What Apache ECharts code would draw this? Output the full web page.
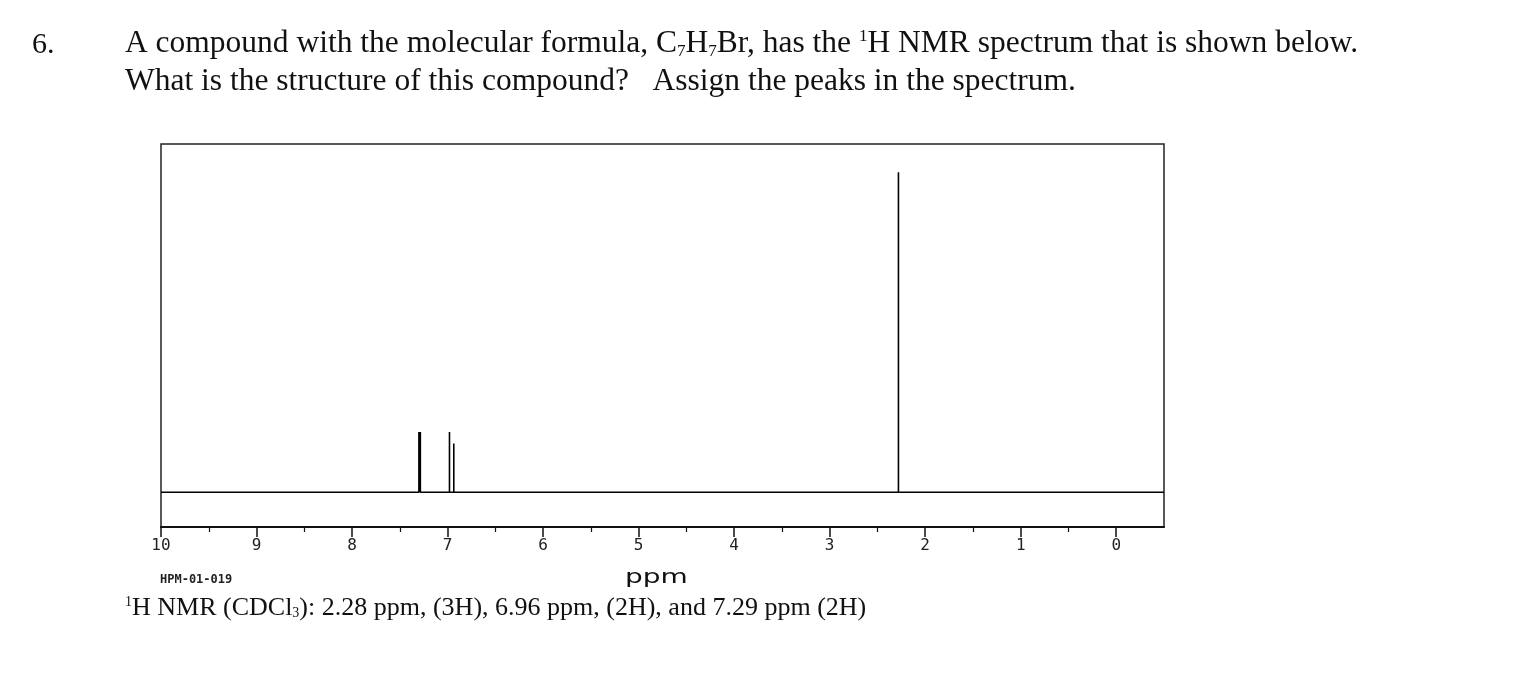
<!DOCTYPE html>
<html>
<head>
<meta charset="utf-8">
<script src="https://cdn.jsdelivr.net/npm/echarts@6/dist/echarts.min.js"></script>
<style>
html,body{margin:0;padding:0;background:#fff;}
#chart{width:1513px;height:687px;}
</style>
</head>
<body>
<div id="chart"></div>
<script>
// ---- data ----
const peakPpm    = [7.30, 7.285, 6.98, 6.935, 2.28];
const peakHeight = [17.3, 17.3, 17.3, 14.0, 91.9];
const ppmMax = 10;
const ppmMin = -0.5;
const majorTicks = [0, 1, 2, 3, 4, 5, 6, 7, 8, 9, 10];
const minorTicks = [0.5, 1.5, 2.5, 3.5, 4.5, 5.5, 6.5, 7.5, 8.5, 9.5];
const tickLabels = ['0', '1', '2', '3', '4', '5', '6', '7', '8', '9', '10'];

// build stick spectrum polyline from the peak list
const order = peakPpm.map((p, i) => i).sort((a, b) => peakPpm[b] - peakPpm[a]);
const spectrum = [[ppmMax, 0]];
order.forEach(i => {
  spectrum.push([peakPpm[i], 0]);
  spectrum.push([peakPpm[i], peakHeight[i]]);
  spectrum.push([peakPpm[i], 0]);
});
spectrum.push([ppmMin, 0]);

const chart = echarts.init(document.getElementById('chart'), null, {renderer: 'canvas'});
const serif = '"Liberation Serif", "Times New Roman", serif';
const mono = '"DejaVu Sans Mono", monospace';

const option = {
  backgroundColor: '#fff',
  animation: false,
  grid: {
    left: 161, right: 349, top: 144, bottom: 160,
    show: true, borderColor: '#222', borderWidth: 1.5, backgroundColor: 'transparent'
  },
  xAxis: [{
    type: 'value', inverse: true, min: ppmMin, max: ppmMax,
    position: 'bottom',
    axisLine: {show: true, onZero: false, lineStyle: {color: '#111', width: 2}},
    axisTick: {show: true, length: 10, customValues: majorTicks, lineStyle: {color: '#111', width: 1.5}},
    axisLabel: {
      show: true, customValues: majorTicks, margin: 11,
      formatter: v => tickLabels[majorTicks.indexOf(Math.round(v))] ?? '',
      fontFamily: mono, fontSize: 16, color: '#222'
    },
    splitLine: {show: false}
  }, {
    type: 'value', inverse: true, min: ppmMin, max: ppmMax,
    position: 'bottom',
    axisLine: {show: false, onZero: false},
    axisTick: {show: true, length: 5, customValues: minorTicks, lineStyle: {color: '#111', width: 1.2}},
    axisLabel: {show: false},
    splitLine: {show: false}
  }],
  yAxis: {
    type: 'value', min: -10, max: 100, show: false, splitLine: {show: false}
  },
  series: [{
    type: 'line',
    xAxisIndex: 0,
    data: spectrum,
    showSymbol: false,
    symbol: 'none',
    lineStyle: {color: '#000', width: 1.6},
    silent: true
  }],
  graphic: [
    {type: 'text', left: 32, top: 30, style: {text: '6.', font: '30px ' + serif, fill: '#111'}},
    {type: 'text', left: 125, top: 28, style: {
      text: 'A compound with the molecular formula, C{s|7}H{s|7}Br, has the {p|1}H NMR spectrum that is shown below.',
      font: '31.5px ' + serif, fill: '#111',
      rich: {
        s: {fontSize: 17, fontFamily: serif, fill: '#111', verticalAlign: 'bottom', padding: [14, 0, 0, 0]},
        p: {fontSize: 17, fontFamily: serif, fill: '#111', verticalAlign: 'top', padding: [0, 0, 14, 0]}
      }
    }},
    {type: 'text', left: 125, top: 66, style: {
      text: 'What is the structure of this compound?   Assign the peaks in the spectrum.',
      font: '31.5px ' + serif, fill: '#111'
    }},
    {type: 'text', left: 160, top: 574, style: {text: 'HPM-01-019', font: 'bold 12px ' + mono, fill: '#222'}},
    {type: 'text', x: 625, y: 568, scaleX: 1.4, style: {text: 'ppm', font: '20px "DejaVu Sans", sans-serif', fill: '#111'}},
    {type: 'text', left: 125, top: 595, style: {
      text: '{p|1}H NMR (CDCl{s|3}): 2.28 ppm, (3H), 6.96 ppm, (2H), and 7.29 ppm (2H)',
      font: '26px ' + serif, fill: '#111',
      rich: {
        s: {fontSize: 14, fontFamily: serif, fill: '#111', padding: [11, 0, 0, 0]},
        p: {fontSize: 14, fontFamily: serif, fill: '#111', padding: [0, 0, 11, 0]}
      }
    }}
  ]
};
chart.setOption(option);
</script>
</body>
</html>
